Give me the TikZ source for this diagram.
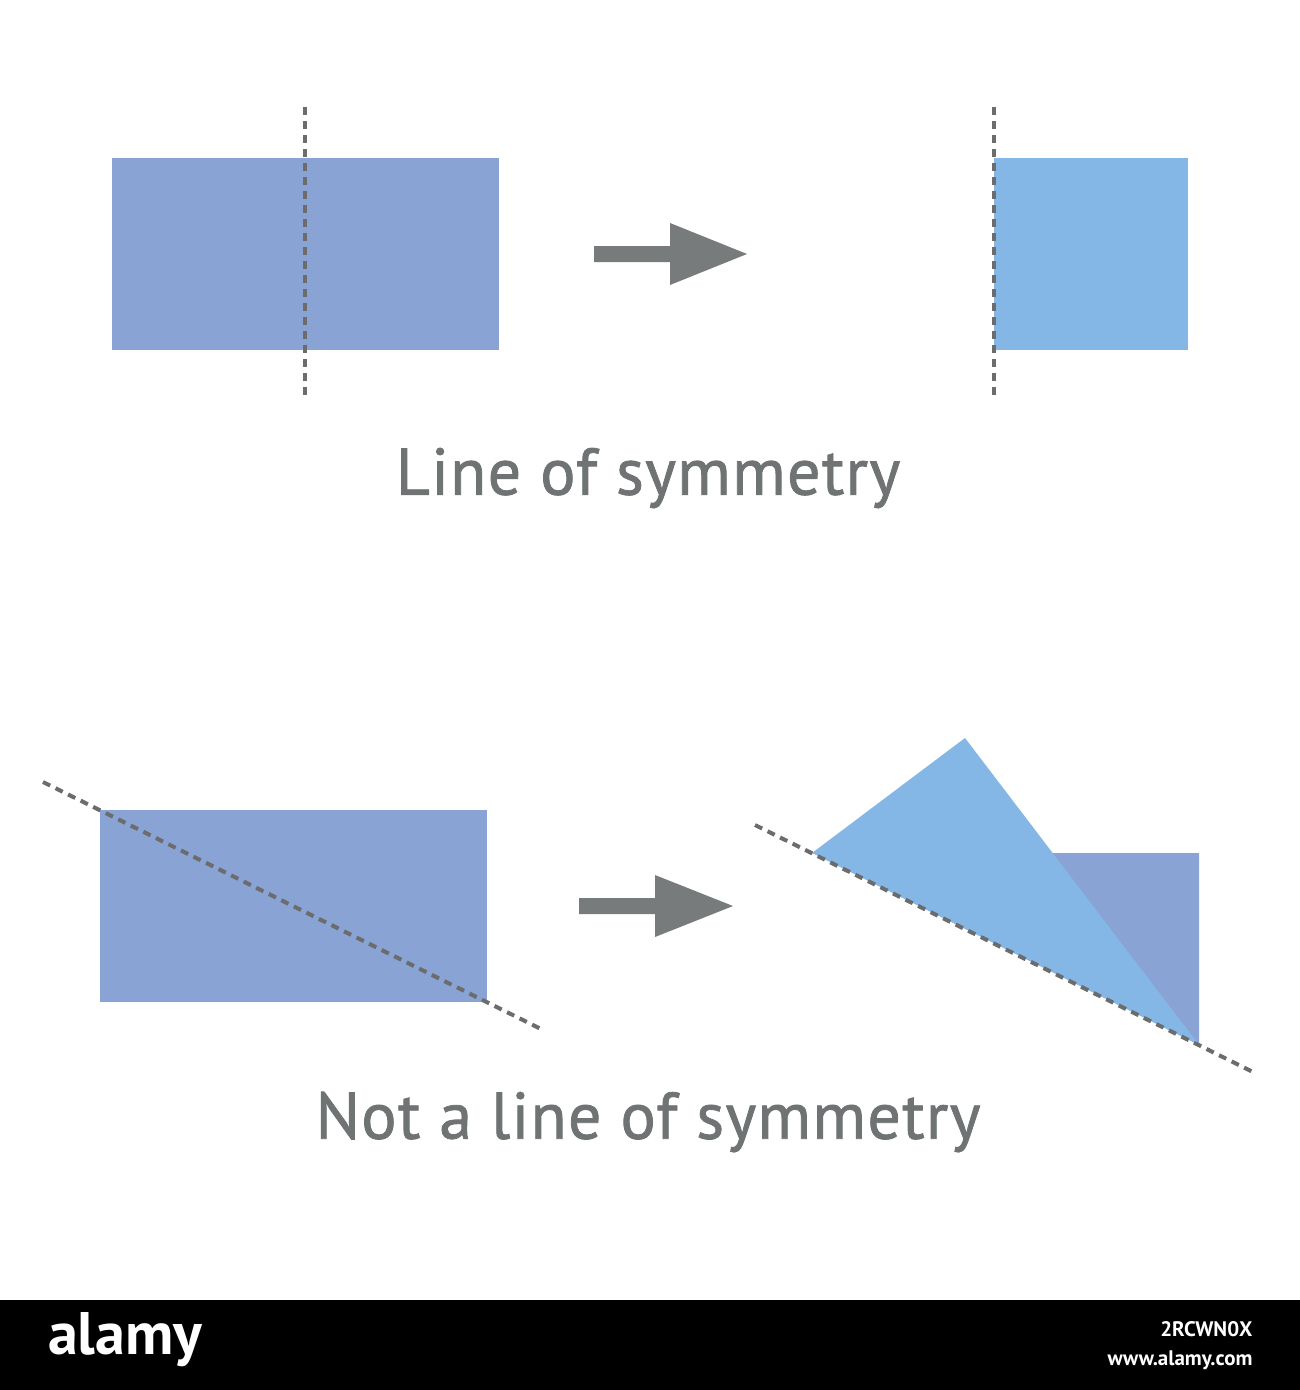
\documentclass[tikz,border=0pt]{standalone}
\usepackage{fontspec}
\setmainfont{PT Sans}
\begin{document}
\begin{tikzpicture}[x=1pt,y=-1pt,
  symline/.style={draw=gray!85!black,line width=4pt,dash pattern=on 8pt off 6pt},
  darkb/.style={fill=blue1,draw=none},
  lightb/.style={fill=blue2,draw=none},
  arr/.style={fill=arrowgray,draw=none},
  lbl/.style={text=textgray,font=\fontsize{66}{70}\selectfont\addfontfeatures{FakeBold=1.2,LetterSpace=2}}]
\definecolor{blue1}{HTML}{88A3D4}
\definecolor{blue2}{HTML}{85B7E6}
\definecolor{arrowgray}{HTML}{777B7B}
\definecolor{textgray}{HTML}{6F7373}
\useasboundingbox (0,0) rectangle (1300,1390);
\fill[white] (0,0) rectangle (1300,1300);
% top
\fill[darkb] (112,158) rectangle (499,350);
\coordinate (t1) at (305,107); \coordinate (t2) at (305,400);
\draw[symline] (t1) -- (t2);
\fill[arr] (594,246) -- (670,246) -- (670,223) -- (747,254) -- (670,285) -- (670,262) -- (594,262) -- cycle;
\fill[lightb] (994,158) rectangle (1188,350);
\coordinate (t3) at (994,107); \coordinate (t4) at (994,400);
\draw[symline] (t3) -- (t4);
\node[lbl] (l1) at (648,478) {Line of symmetry};
% bottom
\fill[darkb] (100,810) rectangle (487,1002);
\coordinate (b1) at (43,782); \coordinate (b2) at (543,1030);
\draw[symline] (b1) -- (b2);
\fill[arr] (579,898) -- (655,898) -- (655,875) -- (733,906) -- (655,937) -- (655,914) -- (579,914) -- cycle;
\fill[darkb] (1050,853) -- (1199,853) -- (1199,1045) -- cycle;
\fill[lightb] (812,853) -- (965,738) -- (1199,1045) -- cycle;
\coordinate (b3) at (755,825); \coordinate (b4) at (1255,1073);
\draw[symline] (b3) -- (b4);
\node[lbl] (l2) at (648,1122) {Not a line of symmetry};
% bar
\fill[black] (0,1300) rectangle (1300,1390);
\node[text=white,font=\bfseries\fontsize{60}{64}\selectfont,anchor=west,inner sep=0pt] (al) at (48,1340) {alamy};
\node[text=white,font=\bfseries\fontsize{21}{22}\selectfont,anchor=east] (id) at (1256,1329) {2RCWN0X};
\node[text=white,font=\bfseries\fontsize{21}{22}\selectfont,anchor=east] (www) at (1256,1360) {www.alamy.com};
\end{tikzpicture}
\end{document}
